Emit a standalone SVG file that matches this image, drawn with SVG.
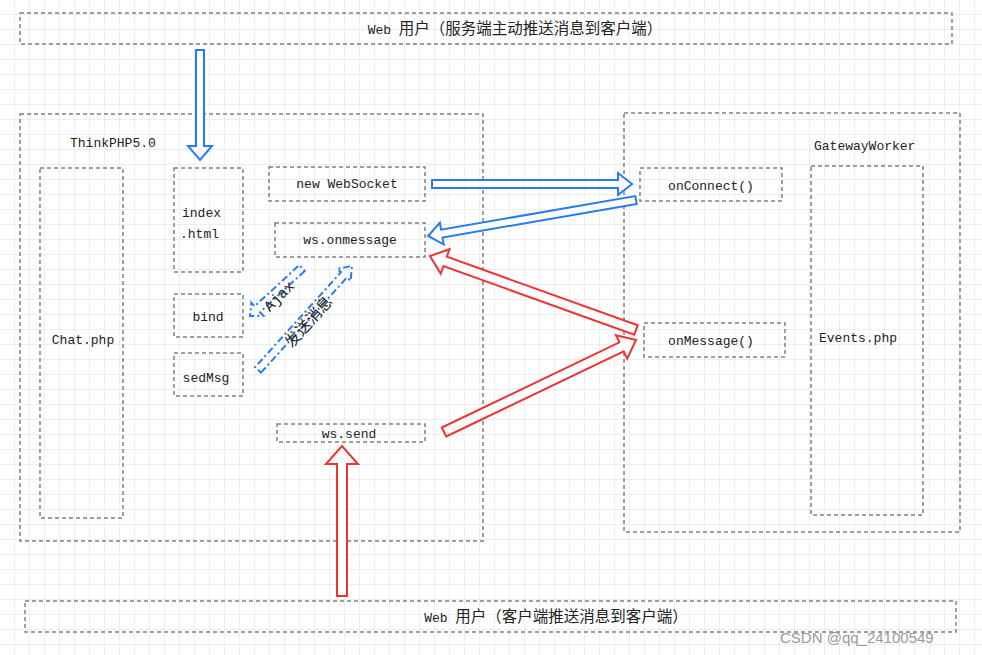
<svg xmlns="http://www.w3.org/2000/svg" width="982" height="655" viewBox="0 0 982 655">
<style>
.b{fill:none;stroke:#808080;stroke-width:1.5;stroke-dasharray:4 3}
text{font-family:"Liberation Mono","Noto Sans CJK SC",monospace;font-size:13px;fill:#222}
.cj{font-size:15.5px}
.c{text-anchor:middle}
.blue{fill:#fff;stroke:#2a7bf0;stroke-width:2}
.red{fill:#fff;stroke:#ee3333;stroke-width:2}
.dd{fill:none;stroke:#2a7bf0;stroke-width:2;stroke-dasharray:7 3 2 3}
</style>
<defs><pattern id="g" width="15" height="15" patternUnits="userSpaceOnUse"><path d="M15 0V15H0" fill="none" stroke="#dcdcdc" stroke-width="1"/></pattern></defs>
<rect width="982" height="655" fill="#fff"/>
<rect width="982" height="655" fill="url(#g)"/>
<g id="top"><rect class="b" x="20" y="13" width="932" height="31"/><text class="c" x="515" y="34">Web <tspan class="cj">用户（服务端主动推送消息到客户端）</tspan></text></g>
<g id="bottom"><rect class="b" x="25" y="601" width="931" height="31"/><text class="c" x="556" y="622">Web <tspan class="cj">用户（客户端推送消息到客户端）</tspan></text></g>
<g id="thinkphp"><rect class="b" x="20" y="114" width="463" height="427"/><text x="70" y="147">ThinkPHP5.0</text></g>
<g id="chat"><rect class="b" x="40" y="168" width="83" height="350"/><text class="c" x="83" y="344">Chat.php</text></g>
<g id="index"><rect class="b" x="174" y="168" width="69" height="104"/><text x="182" y="217">index</text><text x="180" y="238">.html</text></g>
<g id="newws"><rect class="b" x="269" y="167" width="156" height="34"/><text class="c" x="347" y="188">new WebSocket</text></g>
<g id="onmsg"><rect class="b" x="275" y="223" width="150" height="34"/><text class="c" x="350" y="244">ws.onmessage</text></g>
<g id="bind"><rect class="b" x="174" y="294" width="69" height="43"/><text class="c" x="208" y="321">bind</text></g>
<g id="sedmsg"><rect class="b" x="174" y="353" width="69" height="43"/><text class="c" x="206" y="382">sedMsg</text></g>
<g id="wssend"><rect class="b" x="277" y="424" width="148" height="18"/><text class="c" x="349" y="438">ws.send</text></g>
<g id="gateway"><rect class="b" x="624" y="113" width="336" height="419"/><text x="814" y="150">GatewayWorker</text></g>
<g id="onconnect"><rect class="b" x="640" y="168" width="142" height="33"/><text class="c" x="711" y="190">onConnect()</text></g>
<g id="onmessage"><rect class="b" x="644" y="323" width="141" height="34"/><text class="c" x="711" y="345">onMessage()</text></g>
<g id="events"><rect class="b" x="811" y="166" width="112" height="349"/><text class="c" x="858" y="342">Events.php</text></g>
<g id="connectors">
<polygon class="blue" points="196,50 204,50 204,146 212,146 200,160 188,146 196,146"/>
<polygon class="blue" points="432,180 618,180 618,173 632,184 618,195 618,188 432,188"/>
<polygon class="blue" points="636.7,203.9 442.5,237.5 443.7,244.5 428,236 439.9,222.8 441.1,229.7 635.3,196.1"/>
<polygon class="red" points="637.7,325.3 446.8,256.7 449.5,249.2 430,256 440.7,273.6 443.4,266.1 634.3,334.7"/>
<polygon class="red" points="446.2,436.5 623.7,351.4 627.2,358.6 636,340 616,335.2 619.4,342.4 441.8,427.5"/>
<polygon class="red" points="337,596 337,464 326,464 342,446 358,464 347,464 347,596"/>
<polygon class="dd" points="304.7,270.9 260.1,312.2 263.5,315.8 250,316 251.3,302.6 254.6,306.3 299.3,265.1"/>
<polygon class="dd" points="261,372.7 346.9,277.6 350.6,280.9 352,266 337.3,268.9 341,272.2 255,367.3"/>
<text class="c" transform="translate(279,296) rotate(-45)" y="5" style="font-size:15px">Ajax</text>
<text class="c cj" transform="translate(309,322) rotate(-48)" y="5">发送消息</text>
</g>
<text x="780" y="643" style="font-family:'Liberation Sans',sans-serif;font-size:15px;fill:#9a9a9a">CSDN @qq_24100549</text>
</svg>
